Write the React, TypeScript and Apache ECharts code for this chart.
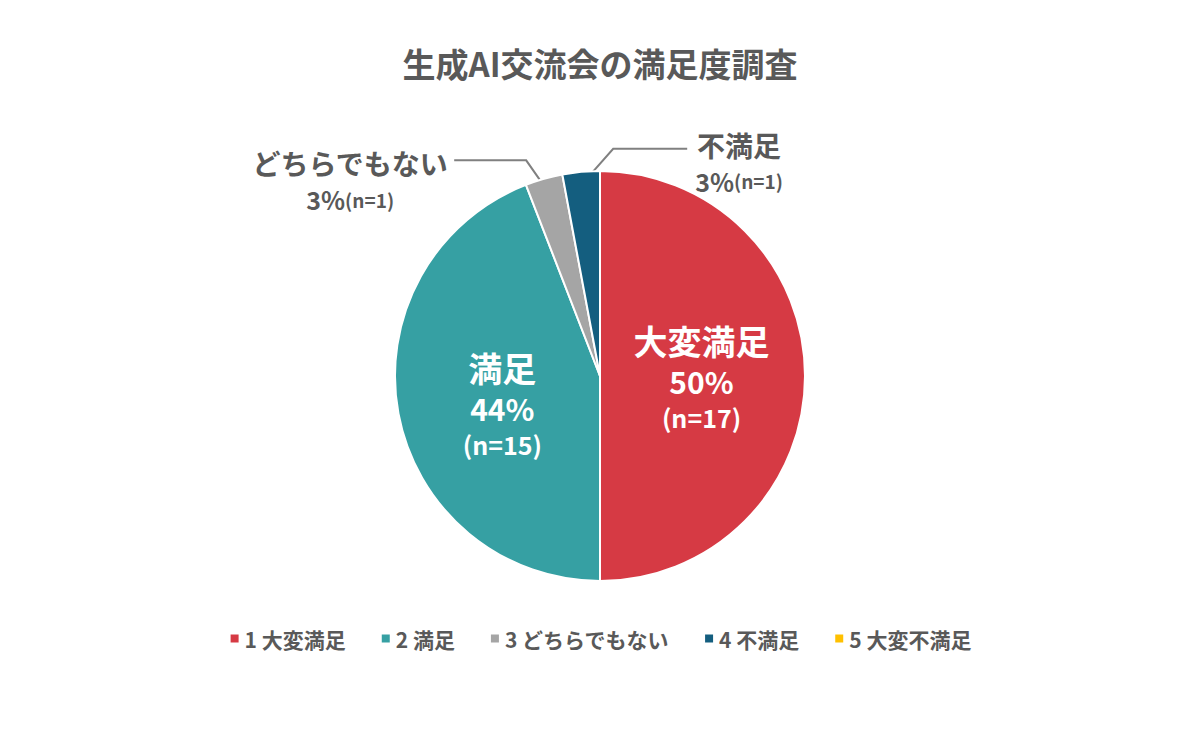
import React, { useEffect, useRef } from 'react';
import * as echarts from 'echarts';

// 回答区分と人数
const categories = ['大変満足', '満足', 'どちらでもない', '不満足', '大変不満足'];
const legendNumbers = ['1', '2', '3', '4', '5'];
const counts = [17, 15, 1, 1, 0];
const colors = ['#D63A44', '#36A0A3', '#A5A5A5', '#145E7F', '#FFC000'];
const insideIndexes = [0, 1];
const outsideIndexes = [2, 3];

const FONT = "'Noto Sans CJK JP', 'Noto Sans', sans-serif";
const GRAY = '#595959';
const CX = 600;
const CY = 376;
const R = 205;

const App: React.FC = () => {
    const chartRef = useRef<HTMLDivElement>(null);

    useEffect(() => {
        if (!chartRef.current) return;
        const chart = echarts.init(chartRef.current, undefined, { renderer: 'svg' });

        const legendNames = categories.map((name, i) => `${legendNumbers[i]} ${name}`);

        const data = counts.map((value, i) => {
            const item: any = {
                name: legendNames[i],
                value,
                itemStyle: { color: colors[i] },
            };
            if (insideIndexes.includes(i)) {
                item.label = {
                    show: true,
                    position: 'inside',
                    offset: i === 1 ? [6, 8] : [-4, 0],
                    formatter: `{name|${categories[i]}}\n{pct|{d}%}\n{n|(n=${value})}`,
                    rich: {
                        name: { fontSize: 34, fontWeight: 'bold', color: '#fff', fontFamily: FONT, lineHeight: 44 },
                        pct: { fontSize: 30, fontWeight: 'bold', color: '#fff', fontFamily: FONT, lineHeight: 38 },
                        n: { fontSize: 25, fontWeight: 'bold', color: '#fff', fontFamily: FONT, lineHeight: 34 },
                    },
                };
                item.labelLine = { show: false };
            } else if (outsideIndexes.includes(i)) {
                item.label = {
                    show: true,
                    position: 'outside',
                    formatter: `{name|${categories[i]}}\n{pct|{d}%}{n|(n=${value})}`,
                    rich: {
                        name: { fontSize: 28, fontWeight: 'bold', color: GRAY, fontFamily: FONT, lineHeight: 38, align: 'center' },
                        pct: { fontSize: 25, fontWeight: 'bold', color: GRAY, fontFamily: FONT, lineHeight: 34, align: 'center' },
                        n: { fontSize: 19, fontWeight: 'bold', color: GRAY, fontFamily: FONT, lineHeight: 34, align: 'center' },
                    },
                };
                item.labelLine = { show: true, lineStyle: { color: '#808080', width: 2 } };
            } else {
                item.label = { show: false };
                item.labelLine = { show: false };
            }
            return item;
        });

        chart.setOption({
            animation: false,
            title: {
                text: '生成AI交流会の満足度調査',
                left: 'center',
                top: 41,
                textStyle: { fontSize: 33, fontWeight: 'bold', color: GRAY, fontFamily: FONT },
            },
            legend: {
                bottom: 98,
                left: 'center',
                itemWidth: 10,
                itemHeight: 10,
                itemGap: 34,
                icon: 'rect',
                data: legendNames,
                textStyle: { fontSize: 21, fontWeight: 'bold', color: GRAY, fontFamily: FONT },
            },
            series: [
                {
                    type: 'pie',
                    center: [CX, CY],
                    radius: R,
                    startAngle: 90,
                    clockwise: true,
                    percentPrecision: 0,
                    stillShowZeroSum: false,
                    itemStyle: { borderColor: '#fff', borderWidth: 2 },
                    labelLine: { length: 20, length2: 80 },
                    labelLayout: (params: any) => {
                        if (!outsideIndexes.includes(params.dataIndex) || !params.labelLinePoints) return {};
                        const p = params.labelLinePoints[0];
                        // 線の始点を少しスライス内側へ
                        const dx = p[0] - CX;
                        const dy = p[1] - CY;
                        const len = Math.sqrt(dx * dx + dy * dy);
                        const p0 = [p[0] - (dx / len) * 12, p[1] - (dy / len) * 12];
                        const toRight = params.dataIndex === 3;
                        const p1 = toRight ? [p0[0] + 31, p0[1] - 35] : [p0[0] - 21, p0[1] - 30];
                        const p2 = toRight ? [p1[0] + 74, p1[1]] : [p1[0] - 72, p1[1]];
                        return {
                            x: toRight ? p2[0] + 8 : p2[0] - 6,
                            y: toRight ? p2[1] - 23 : p2[1] - 16,
                            align: toRight ? 'left' : 'right',
                            verticalAlign: 'top',
                            labelLinePoints: [p0, p1, p2],
                        };
                    },
                    data,
                },
            ],
        });

        return () => chart.dispose();
    }, []);

    return (
        <div
            ref={chartRef}
            style={{ position: 'absolute', left: 0, top: 0, width: 1200, height: 752, background: '#fff' }}
        />
    );
};

export default App;
